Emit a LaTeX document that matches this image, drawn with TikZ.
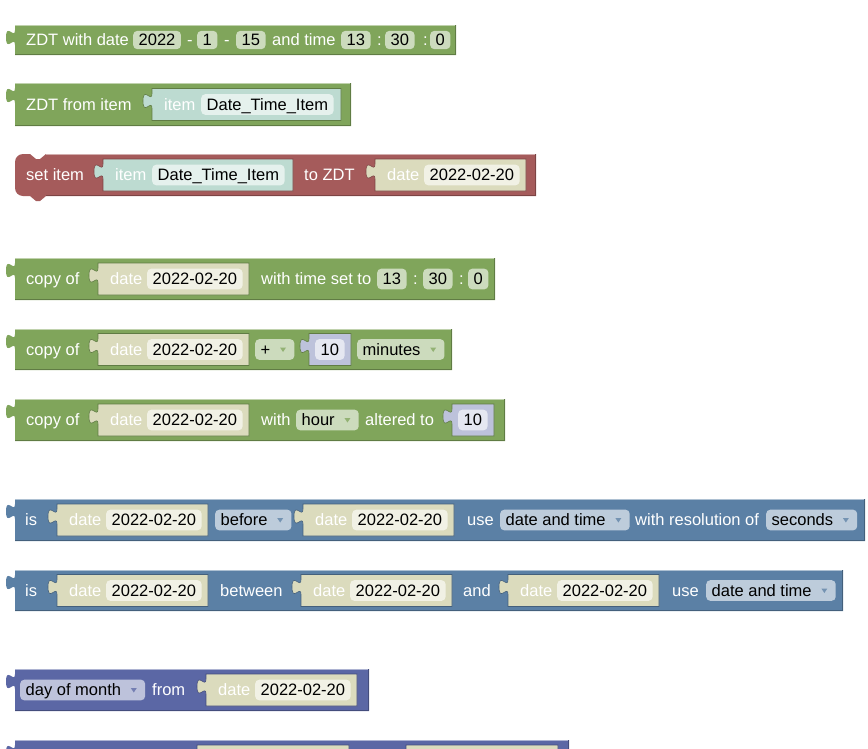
\documentclass[tikz,border=0pt]{standalone}
\usepackage{fontspec}
\setmainfont{Liberation Sans}
\usepackage{xcolor}
\usepackage{tikz}
\definecolor{zgreen}{RGB}{128,165,91}
\definecolor{zred}{RGB}{165,91,91}
\definecolor{zblue}{RGB}{91,128,165}
\definecolor{zindigo}{RGB}{91,103,165}
\definecolor{dateshade}{RGB}{219,219,189}
\definecolor{itemshade}{RGB}{189,219,209}
\definecolor{numshade}{RGB}{189,194,219}
\tikzset{
  blocktext/.style={%
    anchor=west,
    inner sep=0pt,
    text=white,
    text height=13pt,
    text depth=1.6pt,
  },
  field/.style={%
    anchor=west,
    rounded corners=4pt,
    inner xsep=5.5pt,
    inner ysep=3pt,
    text height=13pt,
    text depth=1.6pt,
    text=black,
  },
  gfield/.style={field, fill=white!60!zgreen},
  slimfield/.style={gfield, inner ysep=1.8pt},
}
% block with an output tab on its left edge
\newcommand\Puzzle[5][]{%
  \path[#1] (#2,#3) -- (#4,#3) -- (#4,#5) -- (#2,#5) -- (#2,#3+20)
    .. controls (#2,#3+10) and (#2-9,#3+28) .. (#2-9,#3+12.5)
    .. controls (#2-9,#3-3) and (#2,#3+15) .. (#2,#3+5) -- cycle;
}
\newcommand\Block[5]{% colour, x1, y1, x2, y2
  \Puzzle[fill=#1]{#2}{#3}{#4}{#5}
  \draw[#1!50!white, line width=1pt] (#2,#3+0.5) -- (#4-1,#3+0.5);
  \draw[#1!75!black, line width=1pt] (#4-0.5,#3) -- (#4-0.5,#5-0.5) -- (#2,#5-0.5);
}
\newcommand\ShadowIn[8]{% name, parent, shade, x, y centre, width, label, value
  \Puzzle[fill=#3, draw=#2!75!black, line width=0.6pt]{#4}{#5-16}{#4+#6}{#5+16}
  \node[blocktext] (#1lbl) at (#4+12,#5) {#7};
  \node[field, fill=white!60!#3] (#1val) at (#4+49,#5) {#8};
}
\newcommand\DateIn[4]{\ShadowIn{#1}{#2}{dateshade}{#3}{#4}{151}{date}{2022-02-20}}
\newcommand\NumIn[4]{% name, parent colour, x, y centre
  \Puzzle[fill=numshade, draw=#2!75!black, line width=0.6pt]{#3}{#4-16}{#3+42}{#4+16}
  \node[field, fill=white!60!numshade] (#1) at (#3+6,#4) {10};
}
\newcommand\Drop[5]{% name, block colour, x, y centre, text
  \node[field, fill=white!60!#2] (#1) at (#3,#4) {#5\kern18.5pt};
  \fill[#2!85!white] ([xshift=-14.5pt,yshift=2pt]#1.east) -- ++(6,0) -- ++(-3,4.5) -- cycle;
}
\begin{document}
\begin{tikzpicture}[x=1pt, y=-1pt,
    every node/.style={font=\fontsize{16.5pt}{19pt}\selectfont}]
  \useasboundingbox (0,0) rectangle (868,748);
  \clip (0,0) rectangle (868,748);
  \fill[white] (0,0) rectangle (868,748);

  % ZDT with date
  \Block{zgreen}{15}{25}{456}{55}
  \node[blocktext] (zdtlbl) at (26,40) {ZDT with date};
  \node[slimfield] (zdtyear) at (133,40) {2022};
  \node[blocktext] (zdtdashA) at (187,40) {-};
  \node[slimfield] (zdtmonth) at (197,40) {1};
  \node[blocktext] (zdtdashB) at (224,40) {-};
  \node[slimfield] (zdtday) at (236,40) {15};
  \node[blocktext] (zdttime) at (272,40) {and time};
  \node[slimfield] (zdthour) at (341,40) {13};
  \node[blocktext] (zdtcolA) at (377,40) {:};
  \node[slimfield] (zdtmin) at (385,40) {30};
  \node[blocktext] (zdtcolB) at (423,40) {:};
  \node[slimfield] (zdtsec) at (430,40) {0};

  % ZDT from item
  \Block{zgreen}{15}{83}{351}{126}
  \node[blocktext] (fromlbl) at (26,104.5) {ZDT from item};
  \ShadowIn{fromitem}{zgreen}{itemshade}{152}{104.5}{189}{item}{Date\_Time\_Item}

  % set item
  \fill[zred] (536,154) -- (46,154) -- (40,159) -- (36,159) -- (30,154) -- (23,154)
    .. controls (18.6,154) and (15,157.6) .. (15,162) -- (15,188)
    .. controls (15,192.4) and (18.6,196) .. (23,196) -- (30,196) -- (36,201)
    -- (40,201) -- (46,196) -- (536,196) -- cycle;
  \draw[zred!50!white, line width=1pt] (46,154.5) -- (535,154.5);
  \draw[zred!75!black, line width=1pt] (535.5,154) -- (535.5,195.5) -- (46,195.5);
  \node[blocktext] (setlbl) at (26,175) {set item};
  \ShadowIn{setitem}{zred}{itemshade}{103}{175}{190}{item}{Date\_Time\_Item}
  \node[blocktext] (setto) at (304,175) {to ZDT};
  \DateIn{setdate}{zred}{375}{175}

  % copy of ... with time set to
  \Block{zgreen}{15}{258}{495}{300}
  \node[blocktext] (copyAlbl) at (26,279) {copy of};
  \DateIn{copyAdate}{zgreen}{98}{279}
  \node[blocktext] (copyAwith) at (261,279) {with time set to};
  \node[gfield] (copyAhour) at (377,279) {13};
  \node[blocktext] (copyAcolA) at (413,279) {:};
  \node[gfield] (copyAmin) at (423,279) {30};
  \node[blocktext] (copyAcolB) at (459,279) {:};
  \node[gfield] (copyAsec) at (468,279) {0};

  % copy of ... plus
  \Block{zgreen}{15}{329}{452}{370}
  \node[blocktext] (copyBlbl) at (26,349.5) {copy of};
  \DateIn{copyBdate}{zgreen}{98}{349.5}
  \Drop{copyBop}{zgreen}{255}{349.5}{+}
  \NumIn{copyBnum}{zgreen}{309}{349.5}
  \Drop{copyBunit}{zgreen}{357}{349.5}{minutes}

  % copy of ... altered
  \Block{zgreen}{15}{399}{505}{441}
  \node[blocktext] (copyClbl) at (26,420) {copy of};
  \DateIn{copyCdate}{zgreen}{98}{420}
  \node[blocktext] (copyCwith) at (261,420) {with};
  \Drop{copyCpart}{zgreen}{296}{420}{hour}
  \node[blocktext] (copyCalt) at (365,420) {altered to};
  \NumIn{copyCnum}{zgreen}{452}{420}

  % is ... before
  \Block{zblue}{15}{499}{865}{541}
  \node[blocktext] (cmpAlbl) at (25,520) {is};
  \DateIn{cmpAfirst}{zblue}{57}{520}
  \Drop{cmpAop}{zblue}{215}{520}{before}
  \DateIn{cmpAsecond}{zblue}{303}{520}
  \node[blocktext] (cmpAuse) at (467,520) {use};
  \Drop{cmpAmode}{zblue}{500}{520}{date and time}
  \node[blocktext] (cmpAres) at (635,520) {with resolution of};
  \Drop{cmpAunit}{zblue}{766}{520}{seconds}

  % is ... between
  \Block{zblue}{15}{570}{843}{611}
  \node[blocktext] (cmpBlbl) at (25,590.5) {is};
  \DateIn{cmpBfirst}{zblue}{57}{590.5}
  \node[blocktext] (cmpBbetween) at (220,590.5) {between};
  \DateIn{cmpBlow}{zblue}{301}{590.5}
  \node[blocktext] (cmpBand) at (463,590.5) {and};
  \DateIn{cmpBhigh}{zblue}{508}{590.5}
  \node[blocktext] (cmpBuse) at (672,590.5) {use};
  \Drop{cmpBmode}{zblue}{706}{590.5}{date and time}

  % day of month
  \Block{zindigo}{15}{669}{369}{711}
  \Drop{partsel}{zindigo}{20}{690}{day of month}
  \node[blocktext] (partfrom) at (152,690) {from};
  \DateIn{partdate}{zindigo}{206}{690}

  % cut off at the bottom
  \Block{zindigo}{15}{740}{569}{782}
  \Puzzle[fill=dateshade, draw=zindigo!75!black, line width=0.6pt]{197}{745}{349}{777}
  \Puzzle[fill=dateshade, draw=zindigo!75!black, line width=0.6pt]{406}{745}{558}{777}
\end{tikzpicture}
\end{document}
